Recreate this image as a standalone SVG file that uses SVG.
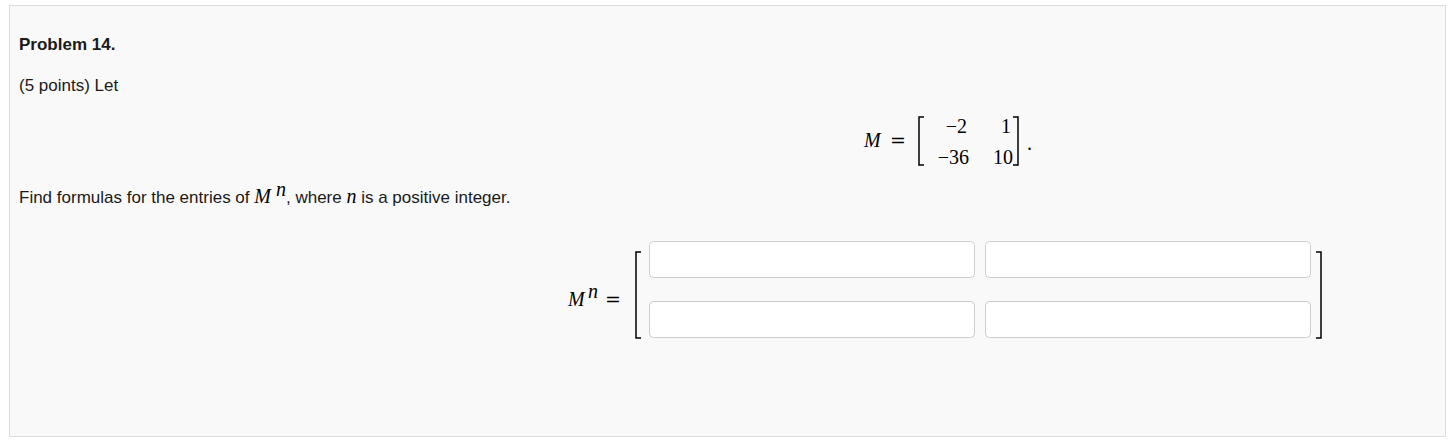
<svg xmlns="http://www.w3.org/2000/svg" width="1451" height="448" viewBox="0 0 1451 448">
<style>
.t{font-family:"Liberation Sans",Arial,sans-serif;font-size:17px;fill:#1a1a1a}
.m{font-family:"Liberation Serif","Times New Roman",serif;font-size:20px;fill:#000}
.e{font-family:"DejaVu Serif",serif;font-size:19px;fill:#000}
.i{font-style:italic}
.box{fill:#fff;stroke:#ccc;stroke-width:1}
.br{fill:none;stroke:#000;stroke-width:1.5}
</style>
<rect width="1451" height="448" fill="#fff"/>
<rect x="9.5" y="5.5" width="1436" height="431" fill="#f9f9f9" stroke="#ddd"/>
<text class="t" x="19" y="50" font-weight="bold" font-size="19">Problem 14.</text>
<text class="t" x="19" y="91">(5 points) Let</text>
<g id="matrixM">
<text class="m i" x="864" y="147" font-size="21">M</text>
<text class="e" x="890" y="147">=</text>
<path class="br" d="M924,117 h-5 v48 h5"/>
<path class="br" d="M1013,117 h5 v48 h-5"/>
<text class="m" x="967" y="133" text-anchor="end">−2</text>
<text class="m" x="1011" y="133" text-anchor="end">1</text>
<text class="m" x="969" y="164" text-anchor="end">−36</text>
<text class="m" x="1013" y="164" text-anchor="end">10</text>
<text class="m" x="1027" y="150">.</text>
</g>
<text class="t" x="19" y="203">Find formulas for the entries of <tspan class="m i" font-size="21">M</tspan><tspan class="m i" font-size="15" dy="-7"> n</tspan><tspan dy="7">, where </tspan><tspan class="m i" font-size="21">n</tspan> is a positive integer.</text>
<g id="answer">
<text class="m i" x="568" y="306" font-size="21">M</text>
<text class="m i" x="588" y="298" font-size="15">n</text>
<text class="e" x="605" y="306">=</text>
<path class="br" d="M641,252 h-5 v86 h5"/>
<path class="br" d="M1316,252 h5 v86 h-5"/>
<rect class="box" x="649.5" y="241.5" width="325" height="36" rx="4"/>
<rect class="box" x="985.5" y="241.5" width="325" height="36" rx="4"/>
<rect class="box" x="649.5" y="301.5" width="325" height="36" rx="4"/>
<rect class="box" x="985.5" y="301.5" width="325" height="36" rx="4"/>
</g>
</svg>
